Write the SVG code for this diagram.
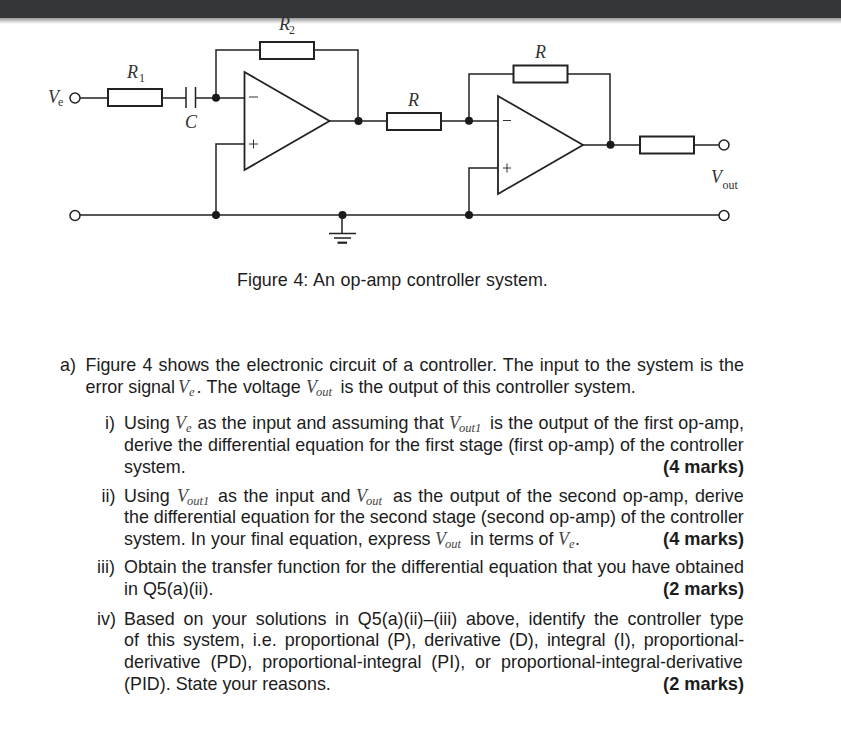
<svg xmlns="http://www.w3.org/2000/svg" width="841" height="744" viewBox="0 0 841 744">
<style>
.w{fill:none;stroke:#222;stroke-width:1.5}
.k{fill:none;stroke:#333;stroke-width:1}
.r{fill:#fff;stroke:#222;stroke-width:2}
.o{fill:#fff;stroke:#222;stroke-width:1.5}
.d{fill:#1a1a1a}
.t{font-family:"Liberation Sans",Arial,sans-serif;font-size:17.9px;fill:#1c1c1c}
.b{font-family:"Liberation Sans",Arial,sans-serif;font-size:18.2px;font-weight:700;fill:#1c1c1c;text-anchor:end}
.m{font-family:"Liberation Serif","Times New Roman",serif;font-style:italic;font-size:18px;fill:#444}
.s{font-family:"Liberation Serif","Times New Roman",serif;font-style:italic;font-size:12.5px;fill:#444}
.c{font-family:"Liberation Serif","Times New Roman",serif;font-style:italic;font-size:18px;fill:#333}
.u{font-family:"Liberation Serif","Times New Roman",serif;font-size:12px;fill:#333}
</style>
<defs>
<linearGradient id="sh" x1="0" y1="0" x2="0" y2="1"><stop offset="0" stop-color="#999"/><stop offset="1" stop-color="#fff"/></linearGradient>
</defs>
<rect width="841" height="744" fill="#fff"/>
<g id="connectors">
<path class="w" d="M80 98H108M162 98H186M195 98H244M216 98V50H260M314 50H358V121M329 121H387M441 121H498M469 121V74H513M567 74H610V145M583 145H640M694 145H719M244 144H216V215M498 168H469V215M80 215H719M342 215V233"/>
<path class="w" d="M329 233.500H356M334 238H351"/>
<path d="M337.500 242.700H347" fill="none" stroke="#222" stroke-width="2.200"/>
</g>
<g id="R2"><rect class="r" x="260" y="42" width="54" height="17"/></g>
<g id="Ve"><circle class="o" cx="75" cy="98" r="5"/><text class="c" x="48" y="103">V</text><text class="u" x="58" y="106">e</text></g>
<g id="R1"><rect class="r" x="108" y="89" width="54" height="17"/><text class="c" x="127" y="78">R</text><text class="u" x="139" y="82">1</text></g>
<g id="C"><path class="w" d="M186 87V108M195.500 87V108"/><text class="c" x="185" y="128">C</text></g>
<g id="opamp1"><path fill="#fff" stroke="#222" stroke-width="1.800" d="M244.500 72V170L329.500 121Z"/><path class="k" d="M249 97H258M249 144H258M253.500 139.500V148.500"/></g>
<g id="R3"><rect class="r" x="387" y="113" width="54" height="17"/><text class="c" x="408" y="106">R</text></g>
<g id="R4"><rect class="r" x="513.500" y="65.500" width="54" height="17"/><text class="c" x="535" y="58">R</text></g>
<g id="opamp2"><path fill="#fff" stroke="#222" stroke-width="1.800" d="M498 96V194L583 145Z"/><path class="k" d="M503 120.500H511M503 168H511M507 163.500V172.500"/></g>
<g id="R5"><rect class="r" x="640" y="136.500" width="54" height="17"/></g>
<g id="Vout"><circle class="o" cx="724" cy="145" r="5"/><text class="c" x="711" y="183">V</text><text class="u" x="722.500" y="188.500">out</text></g>
<g id="gnd-a"><circle class="o" cx="75" cy="215.500" r="5"/></g>
<g id="gnd-b"><circle class="o" cx="724" cy="215.500" r="5"/></g>
<g id="junctions">
<circle class="d" cx="216" cy="97.700" r="4"/><circle class="d" cx="358.500" cy="121" r="4"/><circle class="d" cx="469" cy="120.700" r="4"/><circle class="d" cx="610.500" cy="144.700" r="4"/><circle class="d" cx="216" cy="215" r="4"/><circle class="d" cx="342.500" cy="215" r="4"/><circle class="d" cx="469" cy="215" r="4"/>
</g>
<rect id="bar" width="841" height="18" fill="#33373a"/>
<rect id="bar-shadow" y="18" width="841" height="6" fill="url(#sh)"/>
<g id="R2-label"><text class="c" x="279" y="30">R</text><text class="u" x="289" y="34">2</text></g>
<g id="text">
<text class="t" x="237" y="286" word-spacing="0.7">Figure 4: An op-amp controller system.</text>

<text class="t" x="60" y="371">a)</text>
<text class="t" x="85.500" y="371" word-spacing="1.220">Figure 4 shows the electronic circuit of a controller. The input to the system is the</text>
<text class="t" x="85.500" y="392.700">error signal</text>
<text class="m" x="178" y="392.700">V</text><text class="s" x="189" y="395.500">e</text>
<text class="t" x="196.500" y="392.700" word-spacing="0.5">. The voltage</text>
<text class="m" x="306" y="392.700">V</text><text class="s" x="316" y="395.500">out</text>
<text class="t" x="340.500" y="392.700">is the output of this controller system.</text>

<text class="t" x="105" y="429.300">i)</text>
<text class="t" x="124" y="429.300">Using</text>
<text class="m" x="175" y="429.300">V</text><text class="s" x="186" y="432">e</text>
<text class="t" x="197.500" y="429.300" word-spacing="0.5">as the input and assuming that</text>
<text class="m" x="449" y="429.300">V</text><text class="s" x="459" y="432">out1</text>
<text class="t" x="490" y="429.300" word-spacing="0.4">is the output of the first op-amp,</text>
<text class="t" x="124" y="451.300" word-spacing="0.2">derive the differential equation for the first stage (first op-amp) of the controller</text>
<text class="t" x="124" y="472.700">system.</text>
<text class="b" x="744" y="472.700">(4 marks)</text>

<text class="t" x="101.500" y="501.700">ii)</text>
<text class="t" x="124" y="501.700">Using</text>
<text class="m" x="177" y="501.700">V</text><text class="s" x="187" y="504.500">out1</text>
<text class="t" x="218" y="501.700" word-spacing="1.750">as the input and</text>
<text class="m" x="356" y="501.700">V</text><text class="s" x="366" y="504.500">out</text>
<text class="t" x="393" y="501.700" word-spacing="1.500">as the output of the second op-amp, derive</text>
<text class="t" x="124" y="523.300" word-spacing="-0.13">the differential equation for the second stage (second op-amp) of the controller</text>
<text class="t" x="124" y="545" word-spacing="0.25">system. In your final equation, express</text>
<text class="m" x="435" y="545">V</text><text class="s" x="445" y="547.800">out</text>
<text class="t" x="470" y="545">in terms of</text>
<text class="m" x="558" y="545">V</text><text class="s" x="569" y="547.800">e</text>
<text class="t" x="575" y="545">.</text>
<text class="b" x="744" y="545">(4 marks)</text>

<text class="t" x="97" y="573">iii)</text>
<text class="t" x="124" y="573" word-spacing="0.15">Obtain the transfer function for the differential equation that you have obtained</text>
<text class="t" x="124" y="595">in Q5(a)(ii).</text>
<text class="b" x="744" y="595">(2 marks)</text>

<text class="t" x="97" y="625">iv)</text>
<text class="t" x="124" y="625" word-spacing="3.800">Based on your solutions in Q5(a)(ii)–(iii) above, identify the controller type</text>
<text class="t" x="124" y="646" word-spacing="3.150">of this system, i.e. proportional (P), derivative (D), integral (I), proportional-</text>
<text class="t" x="124" y="668" word-spacing="5">derivative (PD), proportional-integral (PI), or proportional-integral-derivative</text>
<text class="t" x="124" y="690">(PID). State your reasons.</text>
<text class="b" x="744" y="690">(2 marks)</text>
</g>
</svg>
